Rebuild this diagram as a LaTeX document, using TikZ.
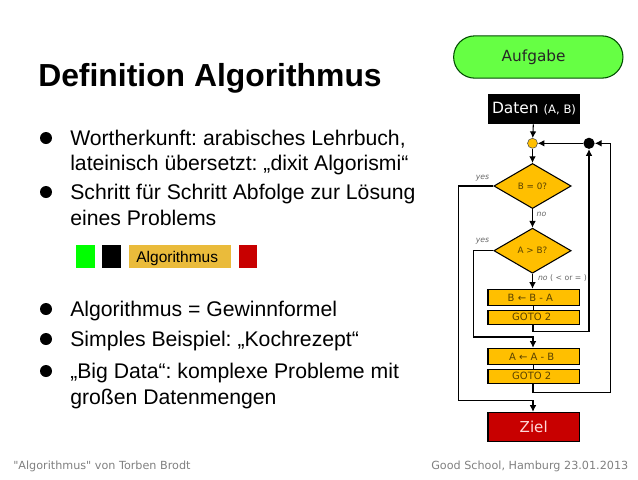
\documentclass[tikz,border=0pt]{standalone}
\usepackage{fontspec}
\usepackage{xcolor}
\setmainfont{Liberation Sans}
\newfontfamily\flowfont{DejaVu Sans}
\usetikzlibrary{shapes.geometric, arrows.meta}
\frenchspacing
\definecolor{gelb}{HTML}{FFBF00}
\definecolor{balken}{HTML}{EABB3B}
\definecolor{rot}{HTML}{C80000}
\definecolor{gruen}{HTML}{66FF44}
\definecolor{braun}{HTML}{5A4200}
\tikzset{
	titel/.style={anchor=base west, inner sep=0, font=\fontsize{23.9}{26}\selectfont\bfseries},
	zeile/.style={anchor=base west, inner sep=0, font=\fontsize{15.9}{18}\selectfont},
	punkt/.style={circle, fill=black, inner sep=0, minimum size=9pt},
	farbfeld/.style={inner sep=0, minimum width=14pt, minimum height=17.5pt},
	fuss/.style={anchor=base west, inner sep=0, text=black!50, font=\flowfont\fontsize{8.4}{10}\selectfont},
	kasten/.style={draw=black, thick, fill=gelb, inner sep=0, minimum width=68.6pt, text=braun, font=\flowfont\fontsize{7.5}{9}\selectfont},
	raute/.style={diamond, draw=black, thick, fill=gelb, inner sep=0, minimum width=58pt, minimum height=33.8pt, text=braun, font=\flowfont\fontsize{6.6}{8}\selectfont},
	notiz/.style={inner sep=0, text=black!60, font=\flowfont\fontsize{5.8}{7}\selectfont\itshape},
	pfeil/.style={thick, -{Latex[length=5pt, width=5pt]}},
	linie/.style={thick}
}
\begin{document}
\begin{tikzpicture}[x=0.75pt, y=-0.75pt]
	\useasboundingbox (0,0) rectangle (638,479);
	% titel
	\draw (38,86) node[titel] (titel) {Definition Algorithmus};
	% erster block
	\draw (46,138) node[punkt] (p1) {};
	\draw (70,145) node[zeile] (z1) {Wortherkunft: arabisches Lehrbuch,};
	\draw (70,170) node[zeile] (z2) {lateinisch übersetzt: „dixit Algorismi“};
	\draw (46,192) node[punkt] (p2) {};
	\draw (70,199) node[zeile] (z3) {Schritt für Schritt Abfolge zur Lösung};
	\draw (70,225) node[zeile] (z4) {eines Problems};
	% farbfelder
	\draw (85.2,256.7) node[farbfeld, fill=green] (f1) {};
	\draw (111.8,256.7) node[farbfeld, fill=black] (f2) {};
	\draw (179.9,256.7) node[farbfeld, fill=balken, minimum width=76.3pt, text depth=0pt, font=\fontsize{11.6}{13}\selectfont] (f3) {\hspace*{-4pt}Algorithmus};
	\draw (248,256.7) node[farbfeld, fill=rot] (f4) {};
	% zweiter block
	\draw (46,309) node[punkt] (p3) {};
	\draw (70,316) node[zeile] (z5) {Algorithmus = Gewinnformel};
	\draw (46,339) node[punkt] (p4) {};
	\draw (70,346) node[zeile] (z6) {Simples Beispiel: „Kochrezept“};
	\draw (46,371) node[punkt] (p5) {};
	\draw (70,378) node[zeile] (z7) {„Big Data“: komplexe Probleme mit};
	\draw (70,404) node[zeile] (z8) {großen Datenmengen};
	% fusszeile
	\draw (13,469) node[fuss] (f5) {"Algorithmus" von Torben Brodt};
	\draw (431,469) node[fuss] (f6) {Good School, Hamburg 23.01.2013};
	% ablauf
	\draw (538.3,57) node[draw=black!70!green, thick, fill=gruen, rounded corners=15.8pt, inner sep=0, minimum width=127pt, minimum height=31.7pt, text=black!85, font=\flowfont\fontsize{11.5}{13}\selectfont] (aufgabe) {\hspace*{-7pt}Aufgabe};
	\draw (534,109) node[fill=black, inner sep=0, minimum width=69pt, minimum height=22.5pt, text=white, font=\flowfont\fontsize{11.6}{13}\selectfont] (daten) {Daten {\fontsize{8.7}{10}\selectfont (A, B)}};
	\draw (532.5,143.3) node[circle, draw=black!70, fill=gelb, inner sep=0, minimum size=7.5pt] (start) {};
	\draw (589,143.3) node[circle, fill=black, inner sep=0, minimum size=8.4pt] (sammel) {};
	\draw (532.5,186) node[raute] (frage1) {B = 0?};
	\draw (532.5,250.7) node[raute] (frage2) {A > B?};
	\draw (533.7,297.5) node[kasten, minimum height=12.3pt] (schritt1) {\hspace*{-5pt}B ← B - A};
	\draw (533.7,317.2) node[kasten, minimum height=10.7pt] (goto1) {\hspace*{-3pt}GOTO 2};
	\draw (533.7,356.5) node[kasten, minimum height=12.3pt] (schritt2) {\hspace*{-3pt}A ← A - B};
	\draw (533.7,376.2) node[kasten, minimum height=10.7pt] (goto2) {\hspace*{-3pt}GOTO 2};
	\draw (533.7,426.7) node[kasten, fill=rot, minimum height=21.5pt, text=white!85!red, font=\flowfont\fontsize{11.3}{13}\selectfont] (ziel) {Ziel};
	% hilfspunkte
	\coordinate (links1) at (458.7,186);
	\coordinate (links2) at (458.7,400.3);
	\coordinate (oben1) at (533,400.3);
	\coordinate (links3) at (473.3,250.7);
	\coordinate (links4) at (473.3,337);
	\coordinate (oben2) at (533,337);
	\coordinate (unten1) at (533,331.3);
	\coordinate (rechts1) at (589,331.3);
	\coordinate (unten2) at (533,392.3);
	\coordinate (rechts2) at (610.7,392.3);
	\coordinate (rechts3) at (610.7,143.3);
	% pfeile
	\draw[pfeil] (daten) -- (start);
	\draw[pfeil] (start) -- (frage1);
	\draw[pfeil] (frage1) -- (frage2);
	\draw[pfeil] (frage2) -- (frage2 |- schritt1.north);
	\draw[linie] (schritt1) -- (goto1);
	\draw[linie] (schritt2) -- (goto2);
	\draw[pfeil] (sammel) -- (start);
	\draw[pfeil] (frage1) -- (links1) -- (links2) -- (oben1) -- (ziel.north -| oben1);
	\draw[pfeil] (frage2) -- (links3) -- (links4) -- (oben2) -- (schritt2.north -| oben2);
	\draw[pfeil] (goto1.south -| unten1) -- (unten1) -- (rechts1) -- (sammel);
	\draw[pfeil] (goto2.south -| unten2) -- (unten2) -- (rechts2) -- (rechts3) -- (sammel);
	% beschriftung
	\draw (482.5,178) node[notiz] (ja1) {yes};
	\draw (482.5,241.5) node[notiz] (ja2) {yes};
	\draw (541.5,214.5) node[notiz] (nein1) {no};
	\draw (562.5,278.5) node[notiz] (nein2) {no\ {\upshape( < or = )}};
\end{tikzpicture}
\end{document}
